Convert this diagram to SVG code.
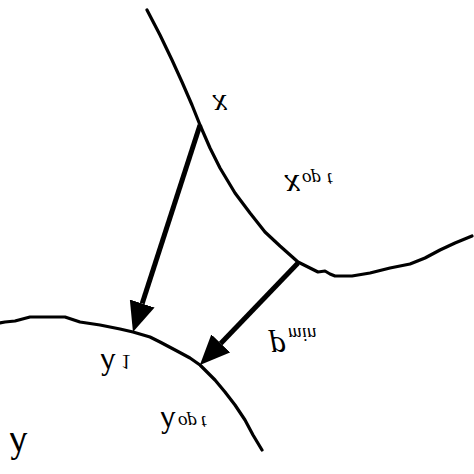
<svg xmlns="http://www.w3.org/2000/svg" width="474" height="474" viewBox="0 0 474 474">
<defs>
<style>
.curve{fill:none;stroke:#000;stroke-width:3.2;stroke-linejoin:round;stroke-linecap:round}
.shaft{fill:none;stroke:#000;stroke-width:5}
.t{fill:#000}
.it{font-style:italic}
</style>
<marker id="ah" markerUnits="userSpaceOnUse" viewBox="0 -13 30 26" refX="0" refY="0" markerWidth="30" markerHeight="26" orient="auto">
<path d="M0,-13 L30,0 L0,13 z" fill="#000"/>
</marker>
</defs>
<rect width="474" height="474" fill="#fff"/>
<g id="curve-x">
<polyline class="curve" points="147,10 160,35 172,60 182,82 192,105 200,125 210,148 220,168 235,193 250,213 265,232 280,246 298,262 310,268 318,272 325,271 330,274 335,276 352,276 370,273 390,268 410,264 425,258 440,250 455,243 472,236"/>
</g>
<g id="curve-lambda">
<polyline class="curve" points="0,323 5,322 15,321 30,317 65,317 80,322 100,325 120,329 133,332 150,337 160,342 177,351 190,358 200,365 207,372 215,380 225,392 235,405 245,420 253,435 262,450"/>
</g>
<g id="connectors">
<line class="shaft" x1="200" y1="125" x2="142.2" y2="303.5" marker-end="url(#ah)"/>
<line class="shaft" x1="298" y1="263" x2="220.7" y2="343.4" marker-end="url(#ah)"/>
</g>
<g id="labels" font-family="'Liberation Serif', 'DejaVu Serif', serif">
<text class="t it" font-size="32" transform="translate(213,95) scale(1,-1)">x</text>
<text class="t it" font-size="34" transform="translate(285,175) scale(1,-1)">x</text>
<text class="t it" font-size="19" transform="translate(302,173) scale(1,-1)">op</text>
<text class="t it" font-size="19" transform="translate(327,173) scale(1,-1)">t</text>
<text class="t" font-size="32" transform="translate(100,354) scale(1,-1)">λ</text>
<text class="t" font-size="20" transform="translate(121,355) scale(1,-1)">1</text>
<text class="t" font-size="32" transform="translate(160,412) scale(1,-1)">λ</text>
<text class="t it" font-size="19" transform="translate(178,416) scale(1,-1)">op</text>
<text class="t it" font-size="19" transform="translate(201,416) scale(1,-1)">t</text>
<text class="t" font-size="38" transform="translate(9,433) scale(1,-1)">λ</text>
<text class="t it" font-size="32" transform="translate(270,337) scale(1,-1)">p</text>
<text class="t it" font-size="19" transform="translate(288,328) scale(1,-1)">min</text>
</g>
</svg>
